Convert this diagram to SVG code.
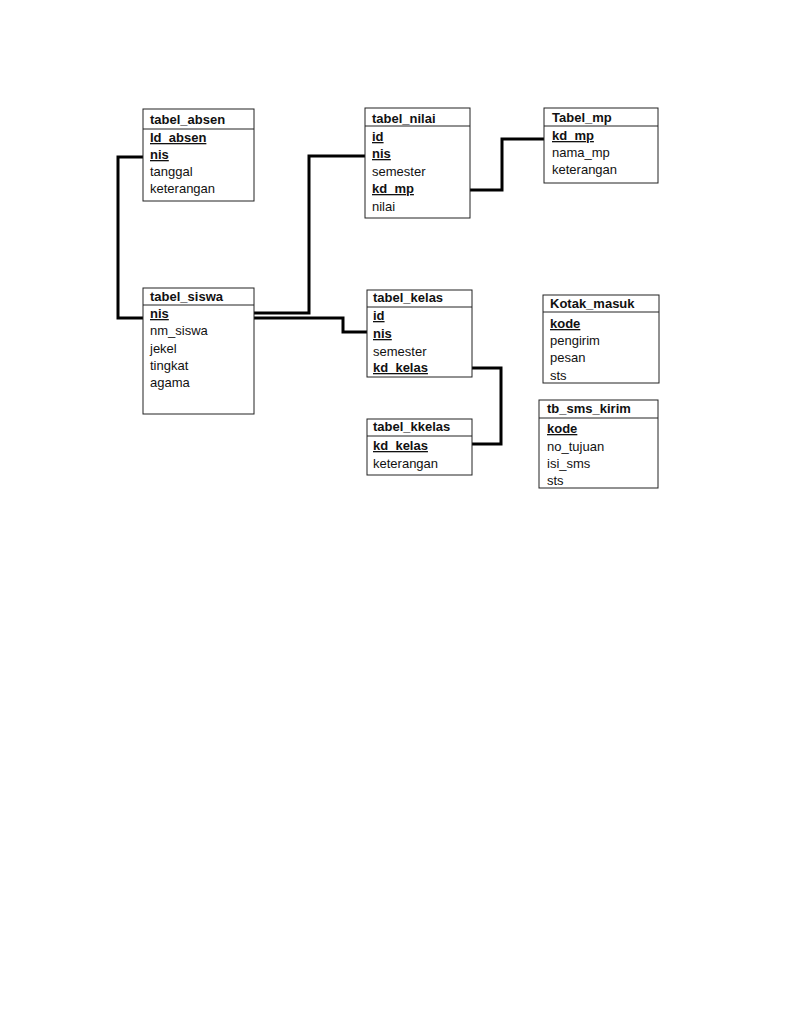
<svg xmlns="http://www.w3.org/2000/svg" width="791" height="1023" viewBox="0 0 791 1023">
<style>
.box{fill:#fff;stroke:#222;stroke-width:1}
.sep{stroke:#222;stroke-width:1}
text{font-family:"Liberation Sans",Arial,sans-serif;font-size:13px;fill:#111}
.h{font-weight:bold}
.k{font-weight:bold;text-decoration:underline}
.c{fill:none;stroke:#000;stroke-width:3}
</style>
<rect width="791" height="1023" fill="#fff"/>
<g id="connectors">
<polyline class="c" points="143,157 118,157 118,318 143,318"/>
<polyline class="c" points="254,313 309,313 309,156 365,156"/>
<polyline class="c" points="254,318 343,318 343,332 367,332"/>
<polyline class="c" points="470,190 502,190 502,139 544,139"/>
<polyline class="c" points="470,368 501,368 501,444 472,444"/>
</g>
<g id="tabel_absen">
<rect class="box" x="143" y="109" width="111" height="92"/>
<line class="sep" x1="143" y1="129" x2="254" y2="129"/>
<text class="h" x="150" y="124">tabel_absen</text>
<text class="k" x="150" y="142">Id_absen</text>
<text class="k" x="150" y="159">nis</text>
<text x="150" y="176">tanggal</text>
<text x="150" y="193">keterangan</text>
</g>
<g id="tabel_nilai">
<rect class="box" x="365" y="108" width="105" height="110"/>
<line class="sep" x1="365" y1="126" x2="470" y2="126"/>
<text class="h" x="372" y="123">tabel_nilai</text>
<text class="k" x="372" y="141">id</text>
<text class="k" x="372" y="158">nis</text>
<text x="372" y="176">semester</text>
<text class="k" x="372" y="193">kd_mp</text>
<text x="372" y="211">nilai</text>
</g>
<g id="Tabel_mp">
<rect class="box" x="544" y="108" width="114" height="75"/>
<line class="sep" x1="544" y1="126" x2="658" y2="126"/>
<text class="h" x="552" y="122">Tabel_mp</text>
<text class="k" x="552" y="140">kd_mp</text>
<text x="552" y="157">nama_mp</text>
<text x="552" y="174">keterangan</text>
</g>
<g id="tabel_siswa">
<rect class="box" x="143" y="288" width="111" height="126"/>
<line class="sep" x1="143" y1="305" x2="254" y2="305"/>
<text class="h" x="150" y="301">tabel_siswa</text>
<text class="k" x="150" y="318">nis</text>
<text x="150" y="335">nm_siswa</text>
<text x="150" y="353">jekel</text>
<text x="150" y="370">tingkat</text>
<text x="150" y="387">agama</text>
</g>
<g id="tabel_kelas">
<rect class="box" x="367" y="290" width="105" height="87"/>
<line class="sep" x1="367" y1="307" x2="472" y2="307"/>
<text class="h" x="373" y="302">tabel_kelas</text>
<text class="k" x="373" y="320">id</text>
<text class="k" x="373" y="338">nis</text>
<text x="373" y="356">semester</text>
<text class="k" x="373" y="372">kd_kelas</text>
</g>
<g id="tabel_kkelas">
<rect class="box" x="367" y="419" width="105" height="56"/>
<line class="sep" x1="367" y1="436" x2="472" y2="436"/>
<text class="h" x="373" y="431">tabel_kkelas</text>
<text class="k" x="373" y="450">kd_kelas</text>
<text x="373" y="468">keterangan</text>
</g>
<g id="Kotak_masuk">
<rect class="box" x="543" y="295" width="116" height="88"/>
<line class="sep" x1="543" y1="312" x2="659" y2="312"/>
<text class="h" x="550" y="308">Kotak_masuk</text>
<text class="k" x="550" y="328">kode</text>
<text x="550" y="345">pengirim</text>
<text x="550" y="362">pesan</text>
<text x="550" y="380">sts</text>
</g>
<g id="tb_sms_kirim">
<rect class="box" x="539" y="400" width="119" height="88"/>
<line class="sep" x1="539" y1="418" x2="658" y2="418"/>
<text class="h" x="547" y="413">tb_sms_kirim</text>
<text class="k" x="547" y="433">kode</text>
<text x="547" y="451">no_tujuan</text>
<text x="547" y="468">isi_sms</text>
<text x="547" y="485">sts</text>
</g>
</svg>
